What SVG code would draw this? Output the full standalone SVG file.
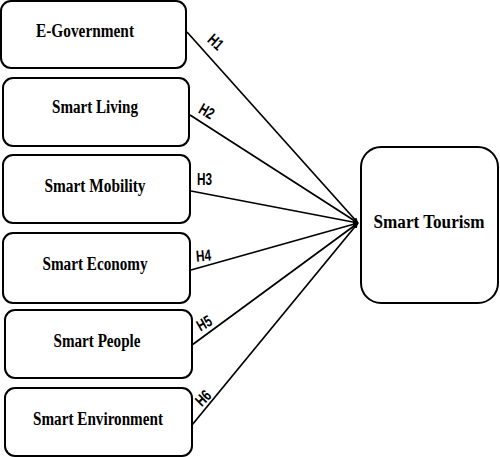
<svg xmlns="http://www.w3.org/2000/svg" width="500" height="457" viewBox="0 0 500 457">
<style>
.box{fill:#fff;stroke:#000;stroke-width:2}
.lbl{font-family:"Liberation Serif","Times New Roman",serif;font-weight:bold;font-size:18px;fill:#000;text-anchor:middle}
.conn line{stroke:#000;stroke-width:1.7;fill:none}
.h{font-family:"Liberation Sans",Arial,sans-serif;font-weight:bold;font-size:16px;fill:#000;text-anchor:middle}
</style>
<defs>
<marker id="ah" viewBox="0 0 6 6" refX="6" refY="3" markerWidth="3" markerHeight="3" orient="auto"><path d="M0,0 L6,3 L0,6 z" fill="#000"/></marker>
</defs>
<rect width="500" height="457" fill="#fff"/>
<g id="n1"><rect class="box" x="1" y="1" width="185" height="67" rx="10"/><text class="lbl" x="85" y="37" textLength="98" lengthAdjust="spacingAndGlyphs">E-Government</text></g>
<g id="n2"><rect class="box" x="3" y="78" width="186" height="68" rx="10"/><text class="lbl" x="95" y="113" textLength="86" lengthAdjust="spacingAndGlyphs">Smart Living</text></g>
<g id="n3"><rect class="box" x="3" y="155" width="187" height="68" rx="10"/><text class="lbl" x="95" y="192" textLength="101" lengthAdjust="spacingAndGlyphs">Smart Mobility</text></g>
<g id="n4"><rect class="box" x="3" y="233" width="187" height="70" rx="10"/><text class="lbl" x="95" y="270" textLength="105" lengthAdjust="spacingAndGlyphs">Smart Economy</text></g>
<g id="n5"><rect class="box" x="5" y="310" width="187" height="68" rx="10"/><text class="lbl" x="97" y="347" textLength="87" lengthAdjust="spacingAndGlyphs">Smart People</text></g>
<g id="n6"><rect class="box" x="5" y="388" width="187" height="68" rx="10"/><text class="lbl" x="98" y="425" textLength="130" lengthAdjust="spacingAndGlyphs">Smart Environment</text></g>
<g id="n7"><rect class="box" x="361" y="147" width="137" height="156" rx="20"/><text class="lbl" x="429" y="228" textLength="111" lengthAdjust="spacingAndGlyphs">Smart Tourism</text></g>
<g id="connectors" class="conn">
<line x1="187" y1="32" x2="358" y2="223" marker-end="url(#ah)"/>
<line x1="190" y1="115" x2="358" y2="223" marker-end="url(#ah)"/>
<line x1="191" y1="191" x2="358" y2="223" stroke-width="2" marker-end="url(#ah)"/>
<line x1="191" y1="270" x2="358" y2="223" stroke-width="2" marker-end="url(#ah)"/>
<line x1="192" y1="345" x2="358" y2="223" marker-end="url(#ah)"/>
<line x1="192" y1="425" x2="358" y2="223" marker-end="url(#ah)"/>
<text class="h" transform="translate(212,46) rotate(42)" textLength="15" lengthAdjust="spacingAndGlyphs">H1</text>
<text class="h" transform="translate(204,116) rotate(30)" textLength="15" lengthAdjust="spacingAndGlyphs">H2</text>
<text class="h" x="204.5" y="185" textLength="15" lengthAdjust="spacingAndGlyphs">H3</text>
<text class="h" transform="translate(204,261) rotate(-5)" textLength="15" lengthAdjust="spacingAndGlyphs">H4</text>
<text class="h" transform="translate(207,328) rotate(-30)" textLength="15" lengthAdjust="spacingAndGlyphs">H5</text>
<text class="h" transform="translate(207,402) rotate(-45)" textLength="15" lengthAdjust="spacingAndGlyphs">H6</text>
</g>
</svg>
